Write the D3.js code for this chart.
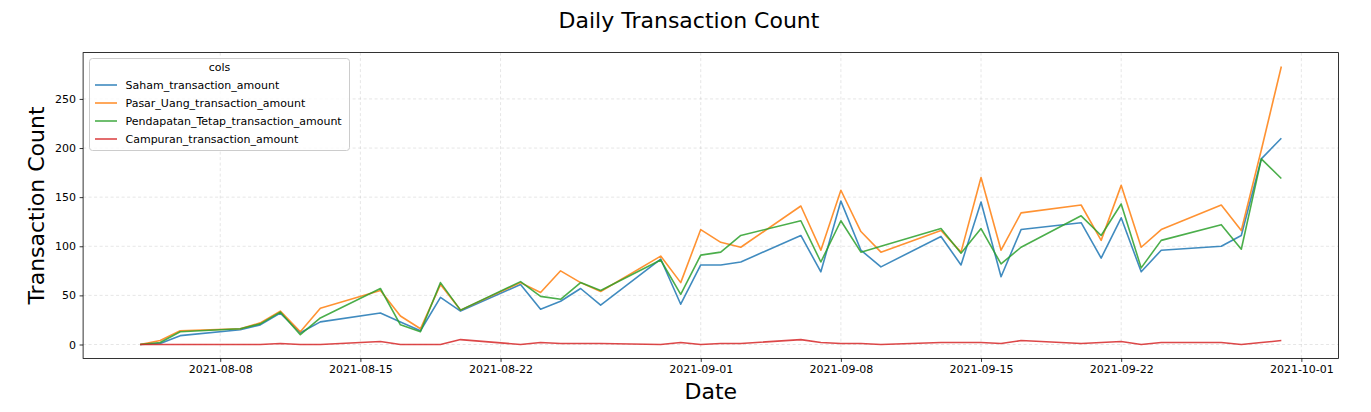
<!DOCTYPE html>
<html>
<head>
<meta charset="utf-8">
<script src="https://cdn.jsdelivr.net/npm/d3@7"></script>
<style>
  html, body { margin: 0; padding: 0; background: #fff; }
  svg { display: block; font-family: "DejaVu Sans", sans-serif; }
</style>
</head>
<body>
<svg id="chart" width="1371" height="412"></svg>
<script>
const dates = ["2021-08-04","2021-08-05","2021-08-06","2021-08-09","2021-08-10","2021-08-11","2021-08-12","2021-08-13",
  "2021-08-16","2021-08-17","2021-08-18","2021-08-19","2021-08-20","2021-08-23","2021-08-24","2021-08-25","2021-08-26",
  "2021-08-27","2021-08-30","2021-08-31","2021-09-01","2021-09-02","2021-09-03","2021-09-06","2021-09-07","2021-09-08",
  "2021-09-09","2021-09-10","2021-09-13","2021-09-14","2021-09-15","2021-09-16","2021-09-17","2021-09-20","2021-09-21",
  "2021-09-22","2021-09-23","2021-09-24","2021-09-27","2021-09-28","2021-09-29","2021-09-30"];

const saham = [0,1,9,15,20,32,12,23,32,23,14,48,34,61,36,44,57,40,87,41,81,81,84,111,74,146,96,79,110,81,145,69,117,124,88,129,74,96,100,111,189,210];
const pasarUang = [0,4,14,16,22,34,13,37,55,29,16,61,35,63,53,75,63,54,90,63,117,104,99,141,96,157,115,94,116,94,170,96,134,142,106,162,99,117,142,116,198,283];
const pendapatanTetap = [0,2,13,16,21,33,10,27,57,20,13,63,35,64,49,46,63,55,86,51,91,94,111,126,84,126,94,100,118,93,118,82,99,131,111,143,78,106,122,97,189,169];
const campuran = [0,0,0,0,0,1,0,0,3,0,0,0,5,0,2,1,1,1,0,2,0,1,1,5,2,1,1,0,2,2,2,1,4,1,2,3,0,2,2,0,2,4];

const seriesNames = ["Saham_transaction_amount","Pasar_Uang_transaction_amount","Pendapatan_Tetap_transaction_amount","Campuran_transaction_amount"];
const seriesValues = [saham, pasarUang, pendapatanTetap, campuran];
const seriesColors = ["#1f77b4","#ff7f0e","#2ca02c","#d62728"];

const xTickLabels = ["2021-08-08","2021-08-15","2021-08-22","2021-09-01","2021-09-08","2021-09-15","2021-09-22","2021-10-01"];
const yTicks = [0,50,100,150,200,250];

const parse = d3.utcParse("%Y-%m-%d");
const dateObjs = dates.map(parse);

const L = 83.1, R = 1338.4, T = 52.6, B = 358.4;
const first = dateObjs[0], last = dateObjs[dateObjs.length - 1];
const span = last - first;
const x = d3.scaleUtc()
  .domain([new Date(+first - span * 0.05), new Date(+last + span * 0.05)])
  .range([L, R]);

const allVals = seriesValues.flat();
const yMin = d3.min(allVals), yMax = d3.max(allVals);
const yPad = (yMax - yMin) * 0.05;
const y = d3.scaleLinear().domain([yMin - yPad, yMax + yPad]).range([B, T]);

const svg = d3.select("#chart");

// Grid
const grid = svg.append("g");
xTickLabels.forEach(t => {
  const px = x(parse(t));
  grid.append("line").attr("x1", px).attr("x2", px).attr("y1", T).attr("y2", B)
    .attr("stroke", "#b0b0b0").attr("stroke-opacity", 0.4).attr("stroke-width", 0.8)
    .attr("stroke-dasharray", "3,2.5");
});
yTicks.forEach(t => {
  const py = y(t);
  grid.append("line").attr("x1", L).attr("x2", R).attr("y1", py).attr("y2", py)
    .attr("stroke", "#b0b0b0").attr("stroke-opacity", 0.4).attr("stroke-width", 0.8)
    .attr("stroke-dasharray", "3,2.5");
});

// Lines
const line = d3.line().x((d, i) => x(dateObjs[i])).y(d => y(d));
seriesValues.forEach((vals, k) => {
  svg.append("path").datum(vals)
    .attr("d", line)
    .attr("fill", "none")
    .attr("stroke", seriesColors[k])
    .attr("stroke-opacity", 0.85)
    .attr("stroke-width", 1.6)
    .attr("stroke-linejoin", "round");
});

// Axes
const xAxis = d3.axisBottom(x)
  .tickValues(xTickLabels.map(parse))
  .tickFormat(d3.utcFormat("%Y-%m-%d"))
  .tickSize(3.5).tickPadding(3.5);
const gx = svg.append("g").attr("transform", `translate(0,${B})`).call(xAxis);
gx.select(".domain").remove();
gx.selectAll("text").attr("font-size", 11).attr("fill", "#000").attr("font-family", "DejaVu Sans");
gx.selectAll("line").attr("stroke", "#000").attr("stroke-width", 0.8);

const yAxis = d3.axisLeft(y).tickValues(yTicks).tickSize(3.5).tickPadding(3.5);
const gy = svg.append("g").attr("transform", `translate(${L},0)`).call(yAxis);
gy.select(".domain").remove();
gy.selectAll("text").attr("font-size", 11).attr("fill", "#000").attr("font-family", "DejaVu Sans");
gy.selectAll("line").attr("stroke", "#000").attr("stroke-width", 0.8);

// Frame
svg.append("rect").attr("x", L).attr("y", T).attr("width", R - L).attr("height", B - T)
  .attr("fill", "none").attr("stroke", "#000").attr("stroke-width", 0.8);

// Title & labels
svg.append("text").attr("x", 689).attr("y", 28).attr("text-anchor", "middle")
  .attr("font-size", 22).text("Daily Transaction Count");
svg.append("text").attr("x", (L + R) / 2).attr("y", 399).attr("text-anchor", "middle")
  .attr("font-size", 22).text("Date");
svg.append("text").attr("transform", `translate(44,${(T + B) / 2}) rotate(-90)`)
  .attr("text-anchor", "middle").attr("font-size", 22).text("Transaction Count");

// Legend
const lg = svg.append("g");
lg.append("rect").attr("x", 89.5).attr("y", 58.5).attr("width", 260).attr("height", 92)
  .attr("rx", 3).attr("fill", "#fff").attr("fill-opacity", 0.8)
  .attr("stroke", "#cccccc").attr("stroke-width", 1);
lg.append("text").attr("x", 219.5).attr("y", 71).attr("text-anchor", "middle")
  .attr("font-size", 11).text("cols");
seriesNames.forEach((n, k) => {
  const cy = 85 + k * 18;
  lg.append("line").attr("x1", 95).attr("x2", 117).attr("y1", cy).attr("y2", cy)
    .attr("stroke", seriesColors[k]).attr("stroke-opacity", 0.85).attr("stroke-width", 1.6);
  lg.append("text").attr("x", 125.5).attr("y", cy + 4).attr("font-size", 11).text(n);
});
</script>
</body>
</html>
